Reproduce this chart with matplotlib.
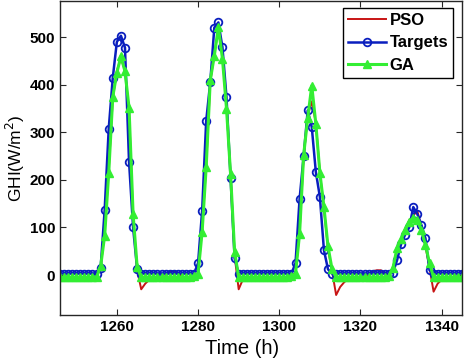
import numpy as np
import matplotlib.pyplot as plt

plt.rcParams['font.family'] = ['Liberation Sans', 'DejaVu Sans']

# hourly time axis
hours = np.arange(1246, 1346)

# measured GHI (blue circles)
targets = [3, 3, 3, 3, 3, 3, 3, 3, 3, 2,
           15, 137, 308, 415, 490, 503, 478, 238, 100, 12,
           3, 3, 3, 3, 3, 3, 3, 3, 3, 3,
           3, 3, 3, 3, 25, 135, 324, 405, 520, 531,
           479, 374, 205, 35, 3, 3, 3, 3, 3, 3,
           3, 3, 3, 3, 3, 3, 3, 3, 25, 160,
           250, 346, 311, 217, 164, 52, 12, 3, 3, 3,
           3, 3, 3, 3, 3, 3, 3, 3, 3, 3,
           3, 3, 5, 31, 65, 85, 100, 143, 128, 105,
           77, 10, 3, 3, 3, 3, 3, 3, 3, 3]

# GA forecast (green triangles)
ga = [-5, -5, -5, -5, -5, -5, -5, -5, -5, -4,
      18, 83, 215, 375, 425, 460, 428, 352, 128, 17,
      -5, -5, -5, -5, -5, -5, -5, -5, -5, -5,
      -5, -5, -5, -3, 3, 91, 227, 409, 461, 521,
      455, 350, 213, 49, -5, -5, -5, -5, -5, -5,
      -5, -5, -5, -5, -5, -5, -5, -3, 3, 87,
      252, 330, 398, 318, 215, 143, 60, 12, -5, -5,
      -5, -5, -5, -5, -5, -5, -5, -5, -5, -5,
      -5, -3, 15, 57, 75, 95, 112, 120, 115, 95,
      63, 25, -5, -5, -5, -5, -5, -5, -5, -5]

# PSO forecast (red line)
pso = [-5, -5, -5, -5, -5, -5, -5, -5, -5, -4,
       15, 90, 220, 370, 430, 455, 430, 345, 125, 10,
       -30, -18, -10, -6, -6, -6, -2, 8, 8, 5,
       -3, -5, -5, -3, 5, 95, 230, 405, 465, 515,
       460, 355, 210, 40, -30, -10, -6, -5, -5, -5,
       -5, -5, -5, -5, -5, -5, -5, -2, 5, 90,
       248, 335, 365, 320, 215, 140, 55, 8, -42, -25,
       -15, -8, -5, -5, -5, -5, 0, 8, 10, 10,
       5, 0, 15, 55, 75, 95, 115, 125, 135, 100,
       60, 15, -35, -18, -10, -6, -6, -6, -6, -6]

fig = plt.figure(figsize=(4.74, 3.59), dpi=100)
ax = fig.add_axes([0.1266, 0.1226, 0.8481, 0.8746])

ax.plot(hours, pso, color='#c81414', lw=1.4, label='PSO')
ax.plot(hours, targets, color='#0a1ebe', lw=1.8, marker='o', ms=5.5,
        mfc='none', mec='#0a1ebe', mew=1.3, label='Targets')
ax.plot(hours, ga, color='#33ee33', lw=2.2, marker='^', ms=6,
        mfc='#33ee33', mec='#33ee33', label='GA')

ax.set_xlim(1246, 1345)
ax.set_ylim(-84, 576)
ax.set_xticks([1260, 1280, 1300, 1320, 1340])
ax.set_yticks([0, 100, 200, 300, 400, 500])
ax.tick_params(direction='in', length=4, width=0.8, top=True, right=True,
               labelsize=11, colors='#262626', labelcolor='black')
for lab in ax.get_xticklabels() + ax.get_yticklabels():
    lab.set_fontweight('bold')
for s in ax.spines.values():
    s.set_color('#262626')
    s.set_linewidth(1.0)

ax.set_xlabel('Time (h)', fontsize=14.5, labelpad=0)
ax.xaxis.set_label_coords(0.454, -0.075)
ax.set_ylabel('GHI(W/m$^2$)', fontsize=12.5, labelpad=2)

leg = ax.legend(loc='upper right', bbox_to_anchor=(0.978, 0.978),
                borderaxespad=0, prop={'size': 12, 'weight': 'bold'},
                fancybox=False, framealpha=1, edgecolor='black',
                handlelength=2.3, handletextpad=0.2, labelspacing=0.45,
                borderpad=0.3)
leg.get_frame().set_linewidth(1.0)

fig.savefig('out.png', dpi=100)
